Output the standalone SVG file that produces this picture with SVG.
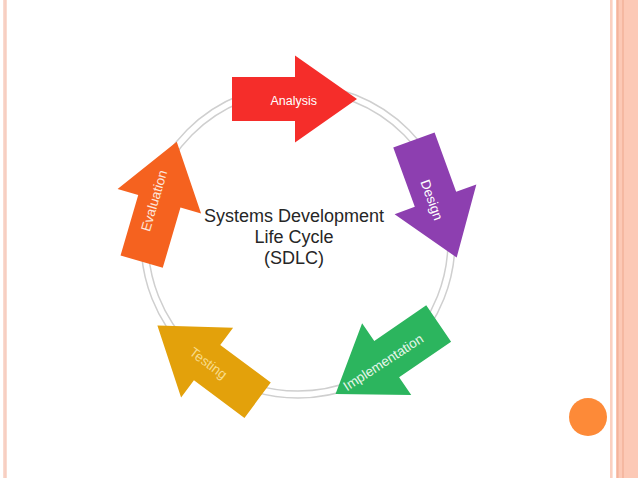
<svg xmlns="http://www.w3.org/2000/svg" width="638" height="478" viewBox="0 0 638 478">
  <style>
    .ring { fill: none; stroke: #cfcfcf; stroke-width: 1.5; }
    .lbl { font-family: "Liberation Sans", Arial, sans-serif; font-size: 13.5px; fill: #ffffff; text-anchor: middle; }
    .title { font-family: "Liberation Sans", Arial, sans-serif; font-size: 18px; fill: #262626; text-anchor: middle; }
  </style>
  <defs>
    <path id="arrow" d="M-62.5,-22 H0.5 V-43.5 L62.5,0 L0.5,43.5 V22 H-62.5 Z"/>
  </defs>
  <rect x="0" y="0" width="638" height="478" fill="#ffffff"/>
  <!-- page decoration -->
  <rect x="3" y="0" width="4" height="478" fill="#fadbd0"/>
  <rect x="4.6" y="0" width="0.9" height="478" fill="#f3c2b1"/>
  <rect x="610" y="0" width="2.6" height="478" fill="#fbd0c0"/>
  <rect x="616" y="0" width="22" height="478" fill="#fcc9b6"/>
  <rect x="616.8" y="0" width="1.8" height="478" fill="#f3b49c"/>
  <rect x="622.2" y="0" width="1.6" height="478" fill="#f3b49c"/>
  <circle cx="588" cy="417" r="19" fill="#fd8a38"/>

  <g id="connectors">
    <circle class="ring" cx="298" cy="241" r="150"/>
    <circle class="ring" cx="298" cy="241" r="157"/>
  </g>

  <g id="analysis">
    <use href="#arrow" transform="translate(294.5,99)" fill="#f52d2a"/>
    <text class="lbl" style="font-size:12.5px" x="293.7" y="104.5">Analysis</text>
  </g>
  <g id="design">
    <use href="#arrow" transform="translate(435.3,198.8) rotate(70)" fill="#8d3fb0"/>
    <text class="lbl" transform="translate(431.7,200) rotate(70)" y="4.5">Design</text>
  </g>
  <g id="implementation">
    <use href="#arrow" transform="translate(387.1,358.8) rotate(145.6)" fill="#2cb55e"/>
    <text class="lbl" transform="translate(383.3,362.5) rotate(-33)" y="4.5" style="fill:#e6f7ea">Implementation</text>
  </g>
  <g id="testing">
    <use href="#arrow" transform="translate(207.5,362.9) rotate(216.7)" fill="#e3a10b"/>
    <text class="lbl" transform="translate(208.3,363.3) rotate(36.7)" y="4.5" style="fill:#f8dc8c">Testing</text>
  </g>
  <g id="evaluation">
    <use href="#arrow" transform="translate(159.2,201.7) rotate(286.3)" fill="#f5621f"/>
    <text class="lbl" transform="translate(154.2,200.8) rotate(-73.7)" y="4.5" style="fill:#fde6dc">Evaluation</text>
  </g>

  <g id="title">
    <text class="title" x="294" y="221.5">Systems Development</text>
    <text class="title" x="294" y="243">Life Cycle</text>
    <text class="title" x="294" y="264">(SDLC)</text>
  </g>
</svg>
